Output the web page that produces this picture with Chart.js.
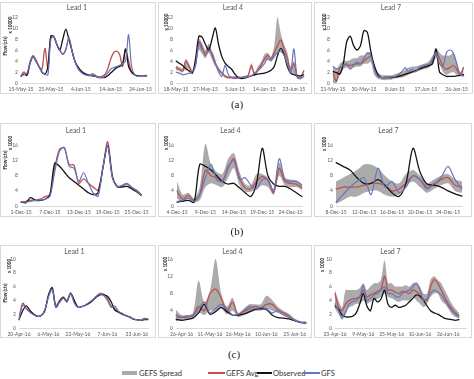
<!DOCTYPE html>
<html><head><meta charset="utf-8">
<script src="https://cdn.jsdelivr.net/npm/chart.js@4.4.1/dist/chart.umd.min.js"></script>
<style>
html,body{margin:0;padding:0;background:#fff;width:474px;height:379px;overflow:hidden;position:relative;font-family:Lato,sans-serif}
.panel{position:absolute;border:1px solid #d9d9d9;box-sizing:border-box;background:#fff}
.panel canvas{display:block}
.vlab{position:absolute;transform:translate(-50%,-50%) rotate(-90deg);white-space:nowrap;font:bold 4.6px Lato,sans-serif;color:#262626}
.cap{position:absolute;transform:translate(-50%,-50%);font:11px 'Liberation Serif',serif;color:#222}
.leg{position:absolute;font:7.6px Lato,sans-serif;color:#333;transform:translateY(-50%);white-space:nowrap}
.sw{position:absolute}
</style></head><body>
<script>
// ---------- DATA ----------
// Row (a): May-Jun 2015 (x 10000 cfs), daily
const a1Ticks = ['15-May-15','25-May-15','4-Jun-15','14-Jun-15','24-Jun-15'];
const a1Obs = [1.2,1.6,1.4,3.5,4.8,4.0,3.0,2.0,1.6,3.0,8.5,8.4,7.0,6.0,8.0,9.8,8.0,6.0,4.0,3.0,2.2,1.8,1.5,1.4,1.3,1.2,1.0,1.0,1.0,1.3,1.8,2.3,2.8,3.0,3.5,6.2,3.0,2.0,1.5,1.3,1.2,1.2,1.3];
const a1Avg = [1.3,2.0,1.5,3.8,5.0,4.2,3.0,2.5,6.3,2.8,8.6,8.4,7.0,6.0,5.2,6.0,8.3,6.0,4.0,2.8,2.3,1.8,1.6,1.4,1.7,1.3,1.1,1.2,1.5,2.5,4.3,5.5,5.8,5.2,3.0,6.0,4.0,2.0,1.5,1.3,1.3,1.3,1.4];
const a1Gfs = [1.3,1.5,1.8,3.5,4.8,4.0,3.0,2.0,1.6,1.5,8.0,8.5,7.0,6.0,5.3,6.2,8.2,6.0,4.0,2.7,2.0,1.6,1.4,1.3,1.5,1.2,1.0,1.0,1.2,1.8,2.5,2.8,3.0,3.2,3.5,4.0,8.8,3.0,1.5,1.2,1.2,1.2,1.3];

const a2Ticks = ['18-May-15','27-May-15','5-Jun-15','14-Jun-15','23-Jun-15'];
const a2Obs = [4.0,3.6,3.2,2.6,2.2,1.8,4.5,8.5,8.3,7.0,6.0,8.0,10.0,7.0,4.8,3.6,3.0,2.5,1.6,1.0,0.8,0.9,1.1,1.3,1.5,1.6,1.7,1.8,2.0,2.3,3.0,5.0,6.3,5.2,3.0,1.8,1.5,1.4,1.3,1.5];
const a2Avg = [2.8,2.5,2.2,4.0,3.0,2.0,3.5,7.5,6.5,5.0,6.5,5.0,3.5,2.5,1.8,1.2,1.0,1.0,1.0,1.0,1.0,1.1,1.3,3.2,1.6,2.4,3.2,4.4,5.0,4.4,5.5,6.8,7.8,6.2,4.5,2.3,3.5,1.2,0.9,2.2];
const a2Gfs = [2.0,1.8,1.5,1.6,1.8,2.0,3.3,7.2,6.0,5.5,5.8,5.5,3.8,2.0,1.2,3.2,1.5,1.0,0.8,0.9,1.0,1.0,1.1,1.3,1.8,2.2,2.8,3.5,4.5,4.0,5.0,5.5,5.8,5.0,3.5,2.0,6.2,1.0,0.8,1.2];
const a2Lo  = [2.3,2.2,1.9,2.6,2.5,1.8,2.8,6.0,5.2,4.5,5.5,4.2,3.0,2.0,1.5,1.0,0.8,0.8,0.8,0.8,0.8,0.9,1.1,2.6,1.3,2.0,2.8,3.8,4.2,4.0,4.5,5.5,6.0,5.0,3.8,2.0,1.5,1.0,0.7,1.8];
const a2Hi  = [3.2,2.9,2.6,4.4,3.5,2.4,4.0,8.0,7.2,6.0,7.2,5.8,4.0,2.8,2.1,1.5,1.2,1.2,1.2,1.2,1.2,1.3,1.6,3.6,2.0,3.0,3.8,5.2,5.5,4.8,6.8,12.0,9.0,7.0,5.5,3.0,4.0,1.5,1.2,2.5];

const a3Ticks = ['21-May-15','30-May-15','8-Jun-15','17-Jun-15','26-Jun-15'];
const a3Obs = [2.1,1.9,1.6,3.5,7.5,8.5,6.8,6.0,6.8,9.5,9.2,5.8,3.2,1.6,1.0,1.0,1.0,1.0,1.1,1.2,1.4,1.6,1.8,2.0,2.2,2.5,2.8,3.0,3.2,3.5,6.2,2.0,1.5,1.2,1.2,1.2,1.3,1.4,1.5];
const a3Avg = [1.8,0.3,2.8,3.2,3.3,3.2,3.4,3.5,3.5,4.0,4.5,4.8,3.0,1.4,1.0,1.0,1.0,1.0,1.1,1.2,1.3,1.5,1.8,2.0,2.2,2.5,2.7,2.9,3.1,4.0,5.5,4.5,3.0,2.5,2.8,3.2,2.5,1.5,2.8];
const a3Gfs = [3.0,2.6,2.8,3.2,3.5,2.5,3.2,3.8,3.5,4.5,5.5,5.0,2.5,1.2,1.0,1.0,1.0,1.1,1.2,1.5,2.0,2.8,2.0,2.5,2.0,2.8,3.1,3.3,3.4,4.5,5.5,3.5,3.0,5.5,6.0,5.5,3.5,1.5,1.3];
const a3Lo  = [0.0,0.0,1.5,2.5,2.8,2.5,2.8,3.0,3.0,3.5,3.5,3.8,1.5,0.8,0.6,0.5,0.6,0.6,0.8,0.9,1.0,1.2,1.5,1.8,2.0,2.2,2.4,2.6,2.8,3.5,4.5,3.5,2.0,1.5,1.8,2.0,1.5,1.2,1.2];
const a3Hi  = [3.0,2.5,3.5,4.0,4.0,4.2,4.5,4.5,5.0,5.0,5.5,5.5,3.5,2.0,1.5,1.4,1.4,1.4,1.6,1.8,2.0,2.4,2.8,3.0,3.0,3.2,3.4,3.6,4.0,5.0,6.2,5.5,5.0,5.0,5.0,5.5,4.0,2.0,3.0];

// Row (b): Dec 2015 (x 1000 cfs), daily
const b1Ticks = ['1-Dec-15','7-Dec-15','13-Dec-15','19-Dec-15','25-Dec-15'];
const b1Obs = [1.0,0.9,2.2,1.5,1.5,1.8,3.0,11.3,10.5,9.0,7.5,6.5,5.5,4.5,3.5,3.0,3.5,10.0,16.0,7.5,5.2,5.0,5.2,4.5,3.8,2.8];
const b1Avg = [1.0,1.2,1.5,1.6,1.8,2.5,3.0,10.0,15.0,15.3,11.0,10.8,6.0,7.2,6.0,5.0,4.2,10.0,17.0,8.0,5.0,5.2,5.8,4.8,4.2,3.0];
const b1Gfs = [1.0,1.0,1.2,1.5,1.6,1.8,2.5,9.0,14.5,15.5,10.5,10.0,6.5,8.8,6.0,3.5,2.6,10.0,16.0,7.5,5.2,5.5,6.0,5.0,4.0,2.8];

const b2Ticks = ['4-Dec-15','9-Dec-15','14-Dec-15','19-Dec-15','24-Dec-15'];
const b2Obs = [1.0,1.3,1.5,1.0,11.0,10.5,9.5,8.0,6.5,5.8,6.0,4.8,3.5,2.5,6.0,15.3,8.0,5.8,5.2,5.2,4.5,3.5,2.5];
const b2Avg = [4.0,1.8,2.8,1.5,3.0,9.5,8.0,7.5,6.5,10.0,12.5,7.5,4.8,4.5,6.5,7.8,6.8,3.5,10.0,6.5,6.0,5.8,4.8];
const b2Gfs = [1.2,1.5,2.0,1.2,3.0,7.5,11.0,7.0,6.5,10.5,12.0,7.0,7.5,5.5,4.5,7.0,7.0,4.0,12.5,7.0,6.5,6.5,5.5];
const b2Lo  = [2.0,1.0,2.0,1.0,1.5,5.0,6.0,5.5,5.0,7.5,10.0,5.5,3.8,3.8,4.5,5.5,5.0,3.0,8.0,5.5,5.0,5.0,4.2];
const b2Hi  = [6.5,3.0,3.5,2.0,5.0,16.5,11.0,9.0,8.5,12.5,14.0,9.0,5.8,5.5,8.5,8.5,7.5,4.5,11.5,7.5,7.0,6.8,5.8];

const b3Ticks = ['8-Dec-15','12-Dec-15','16-Dec-15','20-Dec-15','24-Dec-15'];
const b3Obs = [11.5,10.5,9.5,7.5,6.0,6.0,7.0,5.5,3.5,2.5,6.0,15.3,9.0,5.8,5.5,5.0,4.0,3.2,2.6];
const b3Avg = [4.5,5.0,5.0,5.0,5.5,6.0,6.0,5.5,4.0,4.5,6.0,8.0,7.0,5.0,5.5,7.0,7.5,5.5,5.0];
const b3Gfs = [1.0,3.0,5.0,6.5,7.5,3.0,10.0,5.0,6.5,3.5,5.0,8.0,7.0,4.5,6.0,7.5,10.5,7.0,4.5];
const b3Lo  = [0.5,1.5,2.5,2.5,3.5,4.0,4.0,3.0,2.5,3.0,5.5,6.5,5.0,3.5,4.5,5.5,6.0,4.0,3.5];
const b3Hi  = [6.5,7.5,8.5,9.5,11.0,11.0,10.0,8.0,6.5,6.0,8.5,9.5,8.0,6.0,7.0,8.0,8.5,7.0,6.5];

// Row (c): Apr-Jun 2016 (x 1000 cfs)
const c1Ticks = ['20-Apr-16','6-May-16','22-May-16','7-Jun-16','23-Jun-16'];
const c1Obs = [1.2,2.5,3.2,2.5,2.0,1.7,1.8,2.5,4.8,5.8,3.0,3.8,4.4,3.8,5.0,4.0,3.0,3.1,3.3,3.6,4.0,4.5,4.8,4.8,4.6,3.8,2.6,2.3,2.0,1.8,1.6,1.3,1.2,1.1,1.2,1.2];
const c1Avg = [1.4,3.6,2.8,2.3,2.0,1.7,1.8,2.5,4.6,5.9,3.2,4.0,4.5,4.0,5.1,3.8,3.0,3.1,3.3,3.6,4.0,4.6,5.0,4.9,4.3,3.2,2.8,2.3,2.1,1.8,1.6,1.3,1.2,1.1,1.4,1.3];
const c1Gfs = [1.3,3.3,2.8,2.3,1.9,1.7,1.8,2.6,4.5,5.6,3.0,3.7,4.3,3.9,5.0,3.6,3.0,3.1,3.3,3.7,4.1,4.6,4.9,4.7,4.0,3.0,3.2,2.4,2.1,1.8,1.6,1.3,1.2,1.1,1.3,1.3];

const c2Ticks = ['26-Apr-16','11-May-16','26-May-16','10-Jun-16','25-Jun-16'];
const c2Obs = [2.0,1.8,2.0,2.3,3.5,5.5,3.2,3.8,4.8,3.8,3.0,3.0,3.2,3.8,4.3,4.5,4.3,3.0,2.4,2.3,2.1,1.7,1.3,1.2];
const c2Avg = [3.0,2.5,2.5,3.0,5.0,4.0,8.0,9.0,7.0,3.8,6.0,3.0,3.8,4.5,5.0,4.7,5.5,5.5,4.2,3.5,2.8,1.8,1.3,1.2];
const c2Gfs = [2.5,2.5,2.8,2.8,4.5,6.0,3.5,4.5,5.5,4.5,3.0,3.2,4.0,5.0,4.5,4.8,4.5,3.5,4.0,3.0,2.5,1.8,1.3,1.3];
const c2Lo  = [1.5,2.0,2.0,2.2,3.5,3.0,4.0,4.0,4.5,3.2,4.0,2.5,3.0,3.5,4.0,4.0,4.5,4.0,3.5,3.0,2.3,1.5,1.1,1.0];
const c2Hi  = [4.2,3.0,3.0,3.5,11.0,6.0,8.5,16.0,8.0,5.0,7.0,3.5,4.5,5.5,5.5,5.5,7.5,6.5,5.0,4.0,3.3,2.2,1.6,1.5];

const c3Ticks = ['23-Apr-16','9-May-16','25-May-16','10-Jun-16','26-Jun-16'];
const c3Obs = [3.2,2.7,1.9,1.6,1.6,1.7,2.2,3.5,5.0,3.2,2.5,4.3,3.8,4.2,5.5,3.4,3.0,3.3,3.0,3.1,3.3,3.8,4.3,4.8,4.6,4.0,3.2,2.5,2.2,2.0,1.7,1.4,1.3,1.2,1.1,1.2];
const c3Avg = [5.0,3.0,2.5,3.5,4.0,4.2,4.3,4.5,5.5,4.5,4.8,5.0,5.3,5.6,7.5,5.5,5.5,5.2,5.0,5.3,5.2,5.0,5.5,5.3,4.8,4.2,4.0,6.0,7.0,6.5,5.5,4.5,3.5,2.8,2.2,1.8];
const c3Gfs = [3.5,2.5,1.5,2.3,3.5,3.8,4.0,4.5,6.2,4.0,4.3,4.8,5.0,5.5,6.0,5.0,5.0,4.6,4.5,5.0,5.3,5.5,6.0,6.5,5.5,4.0,4.3,5.0,5.5,5.2,4.8,4.0,3.2,2.5,2.0,1.5];
const c3Lo  = [2.8,2.0,1.2,2.0,3.0,3.2,3.5,3.5,4.0,3.5,3.8,4.0,4.2,4.5,5.0,4.5,4.3,4.0,3.8,4.0,4.0,4.0,4.5,4.0,3.5,3.0,3.5,4.5,5.0,5.0,4.0,3.5,2.8,2.0,1.6,1.4];
const c3Hi  = [5.5,4.0,3.0,5.5,5.5,5.5,5.5,5.8,6.5,5.5,6.0,6.5,6.5,7.0,9.8,6.5,6.5,6.0,6.0,6.0,6.2,6.0,6.5,6.5,6.0,5.0,5.0,7.0,7.5,7.0,6.5,5.5,4.5,3.5,2.8,2.2];

const legendLabels = ['GEFS Spread','GEFS Avg','Observed','GFS'];

// ---------- HELPERS ----------
const MON = ['Jan','Feb','Mar','Apr','May','Jun','Jul','Aug','Sep','Oct','Nov','Dec'];
function dateLabels(y, m, d, step, n) {
  const out = [];
  for (let i = 0; i < n; i++) {
    const t = new Date(Date.UTC(y, m - 1, d + i * step));
    out.push(t.getUTCDate() + '-' + MON[t.getUTCMonth()] + '-' + String(t.getUTCFullYear()).slice(2));
  }
  return out;
}

const RED = '#c0504d', BLACK = '#141414', BLUE = '#6675bd', SPREAD = '#ababab';
const TXT = '#595959';
Chart.defaults.font.family = 'Lato, sans-serif';

// box: [left, top, width, height]; area: [L, R, T, B] (page px); ty: title centre y
const panels = [
  {title:'Lead 1', box:[0,2,156,92],   area:[21,153,17,83],   ty:8,   start:[2015,5,15], step:1, n:44, ticks:a1Ticks, ymax:12, ystep:2, obs:a1Obs, avg:a1Avg, gfs:a1Gfs},
  {title:'Lead 4', box:[158,2,154,92], area:[176,307,17,83],  ty:8,   start:[2015,5,18], step:1, n:41, ticks:a2Ticks, ymax:12, ystep:2, obs:a2Obs, avg:a2Avg, gfs:a2Gfs, lo:a2Lo, hi:a2Hi},
  {title:'Lead 7', box:[314,2,159,92], area:[333,467,17,83],  ty:8,   start:[2015,5,21], step:1, n:40, ticks:a3Ticks, ymax:12, ystep:2, obs:a3Obs, avg:a3Avg, gfs:a3Gfs, lo:a3Lo, hi:a3Hi},
  {title:'Lead 1', box:[0,123,156,94], area:[21,151,138,206], ty:131, start:[2015,12,1], step:1, n:28, ticks:b1Ticks, ymax:18, ystep:2, obs:b1Obs, avg:b1Avg, gfs:b1Gfs},
  {title:'Lead 4', box:[158,123,154,94],area:[177,302,138,206],ty:131, start:[2015,12,4], step:1, n:23, ticks:b2Ticks, ymax:18, ystep:2, obs:b2Obs, avg:b2Avg, gfs:b2Gfs, lo:b2Lo, hi:b2Hi},
  {title:'Lead 7', box:[314,123,158,94],area:[336,462,138,206],ty:131, start:[2015,12,8], step:1, n:19, ticks:b3Ticks, ymax:18, ystep:2, obs:b3Obs, avg:b3Avg, gfs:b3Gfs, lo:b3Lo, hi:b3Hi},
  {title:'Lead 1', box:[0,245,156,93], area:[19,148,259,328], ty:252, start:[2016,4,20], step:2, n:36, ticks:c1Ticks, ymax:10, ystep:1, obs:c1Obs, avg:c1Avg, gfs:c1Gfs},
  {title:'Lead 4', box:[158,245,154,93],area:[176,306,259,328],ty:252, start:[2016,4,23], step:3, n:24, ticks:c2Ticks, ymax:16, ystep:2, obs:c2Obs, avg:c2Avg, gfs:c2Gfs, lo:c2Lo, hi:c2Hi},
  {title:'Lead 7', box:[314,245,158,93],area:[335,466,259,328],ty:252, start:[2016,4,23], step:2, n:38, ticks:c3Ticks, ymax:10, ystep:1, obs:c3Obs, avg:c3Avg, gfs:c3Gfs, lo:c3Lo, hi:c3Hi}
];

function addDiv(cls, text, x, y, extra) {
  const d = document.createElement('div');
  d.className = cls; d.textContent = text;
  d.style.left = x + 'px'; d.style.top = y + 'px';
  if (extra) Object.assign(d.style, extra);
  document.body.appendChild(d);
  return d;
}

panels.forEach(p => {
  const [bl, bt, bw, bh] = p.box;
  const div = document.createElement('div');
  div.className = 'panel';
  Object.assign(div.style, {left: bl + 'px', top: bt + 'px', width: bw + 'px', height: bh + 'px'});
  const cv = document.createElement('canvas');
  const cw = bw - 2, ch = bh - 2;
  cv.width = cw; cv.height = ch;
  cv.style.width = cw + 'px'; cv.style.height = ch + 'px';
  div.appendChild(cv);
  document.body.appendChild(div);

  const cl = bl + 1, ct = bt + 1, cr = bl + bw - 1, cb = bt + bh - 1;
  const [L, R, T, B] = p.area;
  const yW = L - cl, padR = cr - R, xH = cb - B;
  const tSize = 7, tLine = tSize * 1.2;
  const tpTop = p.ty - ct - tLine / 2;
  const tpBot = T - ct - tpTop - tLine;

  const labels = dateLabels(p.start[0], p.start[1], p.start[2], p.step, p.n);
  const ds = [];
  if (p.lo) {
    ds.push({label:'GEFS Spread (min)', data:p.lo, borderWidth:0, borderColor:'rgba(0,0,0,0)', backgroundColor:'rgba(0,0,0,0)', fill:false, order:10});
    ds.push({label:legendLabels[0], data:p.hi, borderWidth:0, borderColor:'rgba(0,0,0,0)', backgroundColor:SPREAD, fill:'-1', order:9});
  }
  ds.push({label:legendLabels[1], data:p.avg, borderColor:RED, borderWidth:1.3, fill:false, order:3});
  ds.push({label:legendLabels[2], data:p.obs, borderColor:BLACK, borderWidth:1.3, fill:false, order:2});
  ds.push({label:legendLabels[3], data:p.gfs, borderColor:BLUE, borderWidth:1.2, fill:false, order:1});

  new Chart(cv, {
    type: 'line',
    data: {labels, datasets: ds},
    options: {
      responsive: false, animation: false, devicePixelRatio: 1,
      layout: {padding: {left: 0, right: padR, top: 0, bottom: 0}},
      elements: {point: {radius: 0}, line: {tension: 0.3, borderJoinStyle: 'round', borderCapStyle: 'round'}},
      plugins: {
        legend: {display: false}, tooltip: {enabled: false},
        title: {display: true, text: p.title, color: TXT, font: {size: tSize, weight: 'normal'}, padding: {top: tpTop, bottom: tpBot}}
      },
      scales: {
        x: {
          type: 'category',
          grid: {display: false, drawTicks: false},
          border: {display: true, color: '#d9d9d9', width: 1},
          ticks: {autoSkip: false, maxRotation: 0, minRotation: 0, padding: 3, color: TXT, font: {size: 5},
                  callback: (v, i) => p.ticks.includes(labels[i]) ? labels[i] : null},
          afterFit: s => { s.height = xH; }
        },
        y: {
          min: 0, max: p.ymax,
          grid: {display: false, drawTicks: false},
          border: {display: false},
          ticks: {stepSize: p.ystep, padding: 3, color: TXT, font: {size: 5}},
          afterFit: s => { s.width = yW; }
        }
      }
    }
  });
});

// axis unit labels (rotated)
const unitLabels = [
  ['x 10000', 10, 25], ['x 10000', 166, 22], ['x 10000', 324, 22],
  ['x 1000', 10, 143], ['x 1000', 166, 143], ['x 1000', 324, 144],
  ['x 1000', 9, 266], ['x 1000', 165, 264], ['x 1000', 322, 265]
];
unitLabels.forEach(u => addDiv('vlab', u[0], u[1], u[2]));
[['Flow (cfs)', 5, 46], ['Flow (cfs)', 5, 160], ['Flow (cfs)', 5, 293]].forEach(u => addDiv('vlab', u[0], u[1], u[2]));

// sub-figure captions
[['(a)', 237, 104], ['(b)', 237, 231], ['(c)', 234, 354]].forEach(c => addDiv('cap', c[0], c[1], c[2]));

// legend
addDiv('sw', '', 122, 371, {width: '15px', height: '4px', background: SPREAD});
addDiv('leg', legendLabels[0], 139, 373);
addDiv('sw', '', 208, 372, {width: '17px', height: '1.5px', background: RED});
addDiv('leg', legendLabels[1], 226, 373);
addDiv('sw', '', 257, 372, {width: '15px', height: '1.5px', background: BLACK});
addDiv('leg', legendLabels[2], 273, 373);
addDiv('sw', '', 303, 372, {width: '17px', height: '1.5px', background: BLUE});
addDiv('leg', legendLabels[3], 321, 373);
</script>
</body></html>
